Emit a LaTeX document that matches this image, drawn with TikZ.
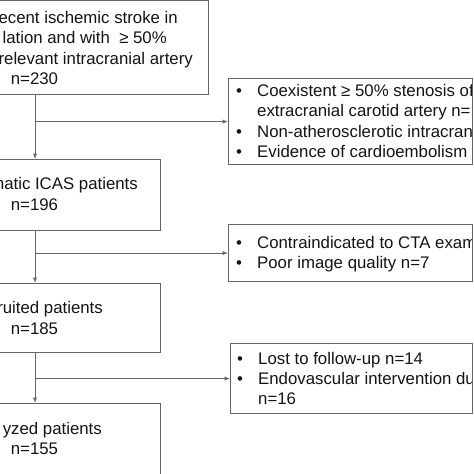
\documentclass[tikz,border=0pt]{standalone}
\usepackage{fontspec}
\setmainfont{Liberation Sans}
\usetikzlibrary{arrows.meta}
\newcommand{\bul}{\makebox[21pt][l]{•}}

\begin{document}
\begin{tikzpicture}[x=1pt,y=-1pt,
    box/.style={rectangle,draw=black!60,line width=1.1pt,inner sep=0pt,anchor=north west},
    txt/.style={inner sep=0pt,font=\fontsize{16.8}{20}\selectfont,text=black!92},
    flow/.style={draw=black!60,line width=1pt,-{Latex[length=5.5pt,width=4.5pt]}},
    ]
    \useasboundingbox (0,0) rectangle (474,474);
    \clip (0,0) rectangle (474,474);
    % main column
    \node[box,minimum width=347pt,minimum height=94pt] (screened) at (-139,0) {};
    \node[box,minimum width=251pt,minimum height=71pt] (icas) at (-91,159) {};
    \node[box,minimum width=251pt,minimum height=69pt] (recruited) at (-91,283) {};
    \node[box,minimum width=251pt,minimum height=70.5pt] (analyzed) at (-91,403) {};
    % exclusions
    \node[box,minimum width=244pt,minimum height=86pt] (exc1) at (228,78) {};
    \node[box,minimum width=244pt,minimum height=57pt] (exc2) at (228,224) {};
    \node[box,minimum width=242pt,minimum height=70pt] (exc3) at (230,343) {};
    % texts of the main column
    \node[txt,anchor=base east] (screened1) at (178,23) {ecent ischemic stroke in};
    \node[txt,anchor=base east] (screened2) at (167,43.5) {lation and with~ ≥ 50\%};
    \node[txt,anchor=base east] (screened3) at (193,64) {relevant intracranial artery};
    \node[txt,anchor=base] (screened4) at (34.5,84.5) {n=230};
    \node[txt,anchor=base east] (icas1) at (138,189.5) {matic ICAS patients};
    \node[txt,anchor=base] (icas2) at (34.5,210) {n=196};
    \node[txt,anchor=base east] (recruited1) at (103,313) {ruited patients};
    \node[txt,anchor=base] (recruited2) at (34.5,334) {n=185};
    \node[txt,anchor=base east] (analyzed1) at (102,434) {yzed patients};
    \node[txt,anchor=base] (analyzed2) at (34.5,454.5) {n=155};
    % texts of the exclusions, cut at the right edge
    \begin{scope}
    \clip (0,0) rectangle (471.5,474);
    \node[txt,anchor=base west] (exc11) at (236,96.7) {\bul Coexistent ≥ 50\% stenosis of};
    \node[txt,anchor=base west] (exc12) at (257,116.7) {extracranial carotid artery n=};
    \node[txt,anchor=base west] (exc13) at (236,137) {\bul Non-atherosclerotic intracrani};
    \node[txt,anchor=base west] (exc14) at (236,157) {\bul Evidence of cardioembolism};
    \node[txt,anchor=base west] (exc21) at (236,248) {\bul Contraindicated to CTA exam};
    \node[txt,anchor=base west] (exc22) at (236,268) {\bul Poor image quality n=7};
    \node[txt,anchor=base west] (exc31) at (237,364) {\bul Lost to follow-up n=14};
    \node[txt,anchor=base west] (exc32) at (237,384) {\bul Endovascular intervention du};
    \node[txt,anchor=base west] (exc33) at (258,404) {n=16};
    \end{scope}
    % connectors
    \draw[flow] (screened.south) -- (icas.north);
    \draw[flow] (screened.south |- exc1.west) -- (exc1.west);
    \draw[flow] (icas.south) -- (recruited.north);
    \draw[flow] (icas.south |- exc2.west) -- (exc2.west);
    \draw[flow] (recruited.south) -- (analyzed.north);
    \draw[flow] (recruited.south |- exc3.west) -- (exc3.west);
\end{tikzpicture}
\end{document}
